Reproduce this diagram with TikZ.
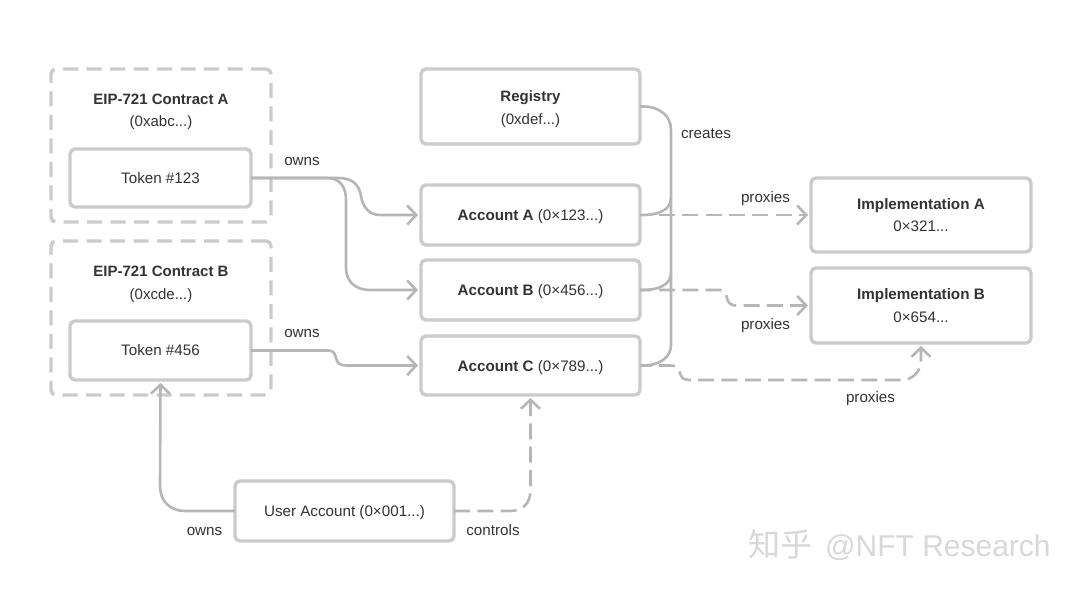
\documentclass[tikz,border=0pt]{standalone}
\usepackage{fontspec}
\setmainfont{Liberation Sans}
\newfontfamily\cjk{Noto Sans CJK SC}
\usetikzlibrary{arrows.meta}
\definecolor{boxc}{HTML}{CBCBCB}
\definecolor{linec}{HTML}{B6B6B6}
\definecolor{txt}{HTML}{333333}
\definecolor{wm}{HTML}{D8D8D8}
\tikzset{
  box/.style={draw=boxc,line width=3.4pt,rounded corners=5pt,outer sep=0pt,inner sep=0pt,
    text=txt,align=center,font=\fontsize{15.2}{22.5}\selectfont},
  low/.style={execute at begin node={\rule[-3.2pt]{0pt}{18pt}}},
  dbox/.style={box,dash pattern=on 15pt off 8.5pt,text=txt},
  lab/.style={text=txt,inner sep=0pt,font=\fontsize{15.2}{17}\selectfont},
  title/.style={lab,align=center,font=\fontsize{15}{22.5}\selectfont},
  head/.style={-{Straight Barb[length=9pt,width=19pt,line width=2.6pt]},shorten >=3pt},
  conn/.style={draw=linec,line width=2.6pt},
  dconn/.style={conn,dash pattern=on 16pt off 7.3pt,dash phase=4.3pt}
}
\begin{document}
\begin{tikzpicture}[x=1pt,y=-1pt]
\fill[white] (0,0) rectangle (1080,590);
\useasboundingbox (0,0) rectangle (1080,590);

\node[dbox,minimum width=220pt,minimum height=153pt] (ca) at (161,145.5) {};
\node[dbox,minimum width=220pt,minimum height=154pt] (cb) at (161,318) {};
\node[title] (cat) at (161,112) {\textbf{EIP-721 Contract A}\\(0xabc...)};
\node[title] (cbt) at (161,284.5) {\textbf{EIP-721 Contract B}\\(0xcde...)};

\node[box,minimum width=181pt,minimum height=58pt] (t1) at (160.5,178) {Token \#123};
\node[box,minimum width=181pt,minimum height=59pt] (t2) at (160.5,350.5) {Token \#456};

\node[box,minimum width=219pt,minimum height=75pt] (reg) at (530.5,106.5) {};
\node[title] (regt) at (530.5,109) {\textbf{Registry}\\(0xdef...)};
\node[box,low,minimum width=219pt,minimum height=60pt] (aa) at (530.5,215) {\textbf{Account A} (0×123...)};
\node[box,low,minimum width=219pt,minimum height=60pt] (ab) at (530.5,290) {\textbf{Account B} (0×456...)};
\node[box,low,minimum width=219pt,minimum height=59pt] (ac) at (530.5,365.5) {\textbf{Account C} (0×789...)};
\node[box,minimum width=220pt,minimum height=74pt] (ia) at (921,215) {\textbf{Implementation A}\\0×321...};
\node[box,minimum width=220pt,minimum height=75pt] (ib) at (921,305.5) {\textbf{Implementation B}\\0×654...};
\node[box,low,minimum width=219pt,minimum height=60pt] (ua) at (344.5,511) {User Account (0×001...)};

% owns
\draw[conn,head] (t1.east) -- (338,178) .. controls (353,178) and (359,185) .. (361,196) .. controls (363,208) and (370,215) .. (380,215) -- (aa.west);
\draw[conn,head] (t1.east) -- (327,178) .. controls (340,178) and (346,187) .. (346,200) -- (346,268) .. controls (346,282) and (356,290) .. (370,290) -- (ab.west);
\draw[conn,head] (t2.east) -- (328,350.5) .. controls (334,350.5) and (335,354) .. (336,358) .. controls (337,363) and (340,365.5) .. (346,365.5) -- (ac.west);
\draw[conn,head] (ua.west) -- (185,511) .. controls (170,511) and (160,501) .. (160,486) -- (t2.south);

% creates
\draw[conn] (reg.east) -- (643,106.5) .. controls (660,106.5) and (671,116) .. (671,130) -- (671,345) .. controls (671,357) and (660,365.5) .. (643,365.5) -- (ac.east);
\draw[conn] (aa.east) -- (643,215) .. controls (658,215) and (671,210) .. (671,198);
\draw[conn] (ab.east) -- (643,290) .. controls (658,290) and (671,285) .. (671,273);

% proxies
\draw[dconn,head] (aa.east) -- (ia.west);
\draw[dconn,head] (ab.east) -- (720,290) .. controls (725,290) and (726,293) .. (727,298) .. controls (728,303) and (731,305.5) .. (736,305.5) -- (ib.west);
\draw[dconn,head] (ac.east) -- (670,365.5) .. controls (677,365.5) and (679,368) .. (680,373) .. controls (681,378) and (684,380) .. (690,380) -- (900,380) .. controls (913,380) and (921,372) .. (921,360) -- (ib.south);

% controls
\draw[conn,dash pattern=on 16pt off 7.3pt,head] (ua.east) -- (510,511) .. controls (523,511) and (530.5,503) .. (530.5,490) -- (ac.south);

\node[lab] (l1) at (302,161) {owns};
\node[lab] (l2) at (302,333) {owns};
\node[lab] (l3) at (204.5,531) {owns};
\node[lab] (l4) at (493,530.5) {controls};
\node[lab] (l5) at (706,134) {creates};
\node[lab] (l6) at (765.5,198.5) {proxies};
\node[lab] (l7) at (765.5,325.5) {proxies};
\node[lab] (l8) at (870.5,398.5) {proxies};

\node[text=wm,inner sep=0pt,anchor=west,font=\fontsize{30}{36}\selectfont] (wmk) at (748,545) {{\cjk\fontsize{32}{36}\selectfont 知乎}\hspace{13pt}@NFT Research};
\end{tikzpicture}
\end{document}
